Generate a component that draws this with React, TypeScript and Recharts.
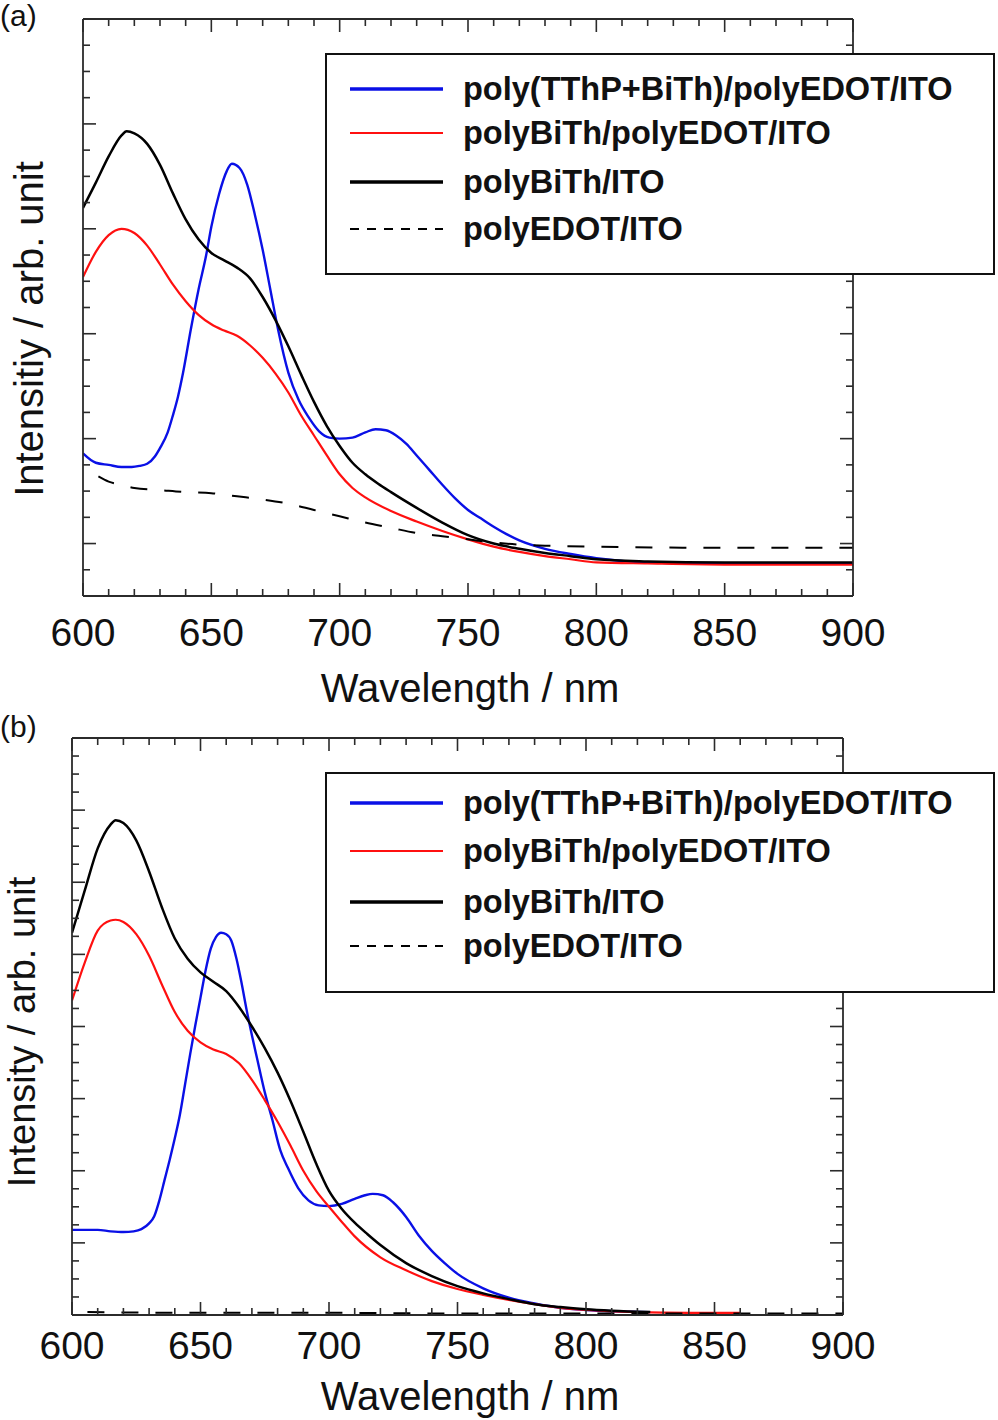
import React from 'react';
import { LineChart, Line, XAxis, YAxis, Legend } from 'recharts';

type Pt = [number, number];

const FONT = '"Liberation Sans", Arial, Helvetica, sans-serif';
const AXIS_COLOR = '#2b2b2b';

// ---------- Panel (a): PL spectra, film on ITO ----------
const blueA: Pt[] = [
  [600, 0.86], [605, 0.77], [610, 0.75], [615, 0.73], [619, 0.73], [622, 0.74], [625, 0.76],
  [628, 0.83], [630, 0.91], [633, 1.06], [635, 1.22], [637, 1.4], [639, 1.63], [642, 2.04],
  [645, 2.42], [648, 2.75], [650, 3.02], [653, 3.33], [656, 3.55], [658, 3.62], [661, 3.58],
  [664, 3.42], [667, 3.13], [670, 2.8], [673, 2.42], [676, 2.04], [680, 1.63], [684, 1.37],
  [688, 1.2], [692, 1.07], [696, 1.01], [700, 1.0], [705, 1.01], [710, 1.06], [714, 1.09],
  [718, 1.08], [722, 1.03], [726, 0.95], [730, 0.84], [735, 0.7], [740, 0.56], [745, 0.43],
  [750, 0.32], [755, 0.24], [760, 0.16], [765, 0.09], [770, 0.03], [780, -0.05], [790, -0.1],
  [800, -0.14], [820, -0.18], [850, -0.19], [900, -0.19],
];
const redA: Pt[] = [
  [600, 2.54], [605, 2.78], [610, 2.94], [615, 3.0], [620, 2.96], [625, 2.84], [630, 2.66],
  [635, 2.47], [640, 2.31], [645, 2.18], [650, 2.09], [655, 2.03], [660, 1.98], [665, 1.89],
  [670, 1.77], [675, 1.62], [680, 1.44], [685, 1.22], [690, 1.03], [695, 0.84], [700, 0.66],
  [705, 0.53], [710, 0.44], [720, 0.31], [730, 0.21], [740, 0.12], [750, 0.04], [760, -0.03],
  [770, -0.08], [780, -0.12], [790, -0.15], [800, -0.18], [820, -0.19], [850, -0.2], [900, -0.2],
];
const blackA: Pt[] = [
  [600, 3.2], [605, 3.44], [610, 3.69], [615, 3.89], [617, 3.93], [620, 3.91], [625, 3.81],
  [630, 3.61], [635, 3.34], [640, 3.09], [645, 2.9], [650, 2.77], [655, 2.7], [660, 2.63],
  [665, 2.53], [670, 2.35], [675, 2.13], [680, 1.88], [685, 1.61], [690, 1.35], [695, 1.12],
  [700, 0.93], [705, 0.77], [710, 0.66], [715, 0.57], [720, 0.49], [730, 0.34], [740, 0.2],
  [750, 0.08], [760, 0.0], [770, -0.05], [780, -0.09], [790, -0.12], [800, -0.15],
  [820, -0.17], [850, -0.18], [900, -0.18],
];
const dashA: Pt[] = [
  [606, 0.64], [610, 0.59], [615, 0.56], [620, 0.53], [630, 0.51], [640, 0.49], [650, 0.48],
  [660, 0.45], [670, 0.42], [680, 0.38], [690, 0.32], [700, 0.26], [710, 0.2], [720, 0.15],
  [730, 0.1], [740, 0.07], [750, 0.04], [760, 0.01], [770, -0.01], [780, -0.02], [800, -0.03],
  [850, -0.04], [900, -0.04],
];

// ---------- Panel (b) ----------
const blueB: Pt[] = [
  [600, 1.18], [605, 1.18], [610, 1.18], [615, 1.16], [620, 1.15], [624, 1.16], [627, 1.19],
  [630, 1.27], [632, 1.37], [634, 1.59], [636, 1.87], [638, 2.15], [640, 2.45], [642, 2.78],
  [644, 3.2], [646, 3.62], [648, 4.02], [650, 4.4], [652, 4.78], [654, 5.08], [656, 5.24],
  [658, 5.3], [660, 5.28], [662, 5.19], [664, 4.94], [666, 4.6], [668, 4.22], [670, 3.88],
  [672, 3.56], [675, 3.09], [678, 2.7], [681, 2.29], [684, 2.04], [688, 1.76], [692, 1.59],
  [696, 1.52], [700, 1.51], [705, 1.54], [710, 1.61], [714, 1.66], [717, 1.68], [721, 1.66],
  [725, 1.56], [730, 1.36], [735, 1.1], [740, 0.89], [745, 0.72], [750, 0.57], [760, 0.37],
  [770, 0.24], [780, 0.16], [790, 0.1], [800, 0.07], [825, 0.04],
];
const redB: Pt[] = [
  [600, 4.36], [605, 4.89], [610, 5.33], [615, 5.47], [617, 5.48], [620, 5.45], [625, 5.28],
  [630, 4.98], [635, 4.58], [640, 4.2], [645, 3.94], [650, 3.78], [655, 3.68], [660, 3.62],
  [665, 3.49], [670, 3.26], [675, 2.98], [680, 2.68], [685, 2.35], [690, 2.0], [695, 1.72],
  [700, 1.5], [705, 1.29], [710, 1.09], [720, 0.8], [730, 0.62], [740, 0.47], [750, 0.36],
  [760, 0.28], [770, 0.21], [780, 0.15], [790, 0.1], [800, 0.07], [820, 0.04], [840, 0.03],
  [860, 0.03],
];
const blackB: Pt[] = [
  [600, 5.3], [605, 5.89], [610, 6.47], [615, 6.8], [617, 6.86], [620, 6.82], [625, 6.58],
  [630, 6.15], [635, 5.65], [640, 5.22], [645, 4.94], [650, 4.75], [655, 4.62], [660, 4.49],
  [665, 4.27], [670, 4.0], [675, 3.7], [680, 3.36], [685, 2.97], [690, 2.54], [695, 2.1],
  [700, 1.72], [705, 1.47], [710, 1.28], [715, 1.12], [720, 0.97], [730, 0.72], [740, 0.54],
  [750, 0.4], [760, 0.3], [770, 0.22], [780, 0.15], [790, 0.11], [800, 0.08], [810, 0.06],
  [825, 0.04],
];
const dashB: Pt[] = [
  [606, 0.04], [650, 0.03], [700, 0.03], [750, 0.02], [800, 0.02], [850, 0.02], [900, 0.02],
];

// ---------- Shared axis settings ----------
const X_DOMAIN: [number, number] = [600, 900];
const X_LABELS = [600, 650, 700, 750, 800, 850, 900];

const seriesNames = [
  'poly(TThP+BiTh)/polyEDOT/ITO',
  'polyBiTh/polyEDOT/ITO',
  'polyBiTh/ITO',
  'polyEDOT/ITO',
];
const seriesColors = ['#0a10e6', '#ff1010', '#000000', '#000000'];
const seriesWidths = [2.4, 2.2, 2.5, 2];
const legendWidths = [3.5, 2, 3.5, 2];
const seriesDash: (string | undefined)[] = [undefined, undefined, undefined, '17 17'];

const range = (start: number, end: number, step: number) => {
  const out: number[] = [];
  for (let i = 0; start + i * step <= end + 1e-9; i++) out.push(+(start + i * step).toFixed(4));
  return out;
};
const X_TICKS = range(600, 900, 10);
const isMajorX = (v: number) => Math.abs(v % 50) < 1e-6;
const isMajorY = (v: number) => Math.abs(v - Math.round(v)) < 1e-6;

const MAJOR = 13;
const MINOR = 7;

type PanelCfg = {
  tag: string;
  yTitle: string;
  yDomain: [number, number];
  margin: { top: number; right: number; bottom: number; left: number };
  series: Pt[][];
  tickLabelDy: number;
  titleDy: number;
  titleCx: number;
  yTitleX: number;
  yTitleCy: number;
  yTitleSize: number;
  tagY: number;
  legend: { left: number; top: number; width: number; height: number; rows: number[] };
};

// Every axis is 1px thick, so the margins are 1px short of the plot edges.
const panels: PanelCfg[] = [
  {
    tag: '(a)',
    yTitle: 'Intensitiy / arb. unit',
    yDomain: [-0.5, 5],
    margin: { top: 18, right: 144, bottom: 113, left: 82 },
    series: [blueA, redA, blackA, dashA],
    tickLabelDy: 50,
    titleDy: 106,
    titleCx: 470,
    yTitleX: 43,
    yTitleCy: 329,
    yTitleSize: 40,
    tagY: 26,
    legend: { left: 325, top: 53, width: 670, height: 222, rows: [36, 80, 129, 176] },
  },
  {
    tag: '(b)',
    yTitle: 'Intensity / arb. unit',
    yDomain: [0, 8],
    margin: { top: 27, right: 154, bottom: 104, left: 71 },
    series: [blueB, redB, blackB, dashB],
    tickLabelDy: 44,
    titleDy: 95,
    titleCx: 470,
    yTitleX: 35,
    yTitleCy: 322,
    yTitleSize: 38,
    tagY: 27,
    legend: { left: 325, top: 62, width: 670, height: 221, rows: [31, 79, 130, 174] },
  },
];

const BottomTick = (props: any) => {
  const { x, y, payload, labelDy } = props;
  const v = payload.value as number;
  const major = isMajorX(v);
  return (
    <g>
      <line x1={x} x2={x} y1={y} y2={y - (major ? MAJOR : MINOR)} stroke={AXIS_COLOR} strokeWidth={1.6} />
      {major && X_LABELS.includes(v) && (
        <text x={x} y={y + labelDy} textAnchor="middle" fontFamily={FONT} fontSize={39} fill="#111">
          {v}
        </text>
      )}
    </g>
  );
};

const TopTick = (props: any) => {
  const { x, y, payload } = props;
  const major = isMajorX(payload.value);
  return <line x1={x} x2={x} y1={y} y2={y + (major ? MAJOR : MINOR)} stroke={AXIS_COLOR} strokeWidth={1.6} />;
};

const LeftTick = (props: any) => {
  const { x, y, payload } = props;
  const major = isMajorY(payload.value);
  return <line x1={x} x2={x + (major ? MAJOR : MINOR)} y1={y} y2={y} stroke={AXIS_COLOR} strokeWidth={1.6} />;
};

const RightTick = (props: any) => {
  const { x, y, payload } = props;
  const major = isMajorY(payload.value);
  return <line x1={x} x2={x - (major ? MAJOR : MINOR)} y1={y} y2={y} stroke={AXIS_COLOR} strokeWidth={1.6} />;
};

const LegendBox = ({ cfg }: { cfg: PanelCfg }) => {
  const { width, height, rows } = cfg.legend;
  const b = 2;
  return (
    <div
      style={{
        width,
        height,
        boxSizing: 'border-box',
        border: `${b}px solid #111`,
        background: '#fff',
      }}
    >
      <svg width={width - 2 * b} height={height - 2 * b} style={{ display: 'block' }}>
        {seriesNames.map((name, i) => (
          <g key={name}>
            <line
              x1={25 - b}
              x2={118 - b}
              y1={rows[i] - b}
              y2={rows[i] - b}
              stroke={seriesColors[i]}
              strokeWidth={legendWidths[i]}
              strokeDasharray={i === 3 ? '9 8' : undefined}
            />
            <text
              x={138 - b}
              y={rows[i] - b + 11}
              fontFamily={FONT}
              fontWeight="bold"
              fontSize={32.5}
              fill="#111"
            >
              {name}
            </text>
          </g>
        ))}
      </svg>
    </div>
  );
};

const Panel = ({ cfg }: { cfg: PanelCfg }) => {
  const yTicks = range(cfg.yDomain[0], cfg.yDomain[1], 0.25);
  const data = cfg.series.map((pts) => pts.map(([x, y]) => ({ x, y })));
  return (
    <LineChart width={998} height={710} margin={cfg.margin}>
      <XAxis
        xAxisId="b"
        dataKey="x"
        type="number"
        domain={X_DOMAIN}
        ticks={X_TICKS}
        interval={0}
        height={1}
        tickSize={0}
        tickMargin={0}
        tickLine={false}
        axisLine={{ stroke: AXIS_COLOR, strokeWidth: 1.8 }}
        tick={(p: any) => <BottomTick {...p} labelDy={cfg.tickLabelDy} />}
        allowDataOverflow
        label={{
          content: (p: any) => {
            const vb = p.viewBox || {};
            return (
              <text
                x={cfg.titleCx}
                y={(vb.y ?? 0) + cfg.titleDy}
                textAnchor="middle"
                fontFamily={FONT}
                fontSize={40}
                fill="#111"
              >
                Wavelength / nm
              </text>
            );
          },
        }}
      />
      <XAxis
        xAxisId="t"
        orientation="top"
        dataKey="x"
        type="number"
        domain={X_DOMAIN}
        ticks={X_TICKS}
        interval={0}
        height={1}
        tickSize={0}
        tickMargin={0}
        tickLine={false}
        axisLine={{ stroke: AXIS_COLOR, strokeWidth: 1.8 }}
        tick={(p: any) => <TopTick {...p} />}
        allowDataOverflow
      />
      <YAxis
        yAxisId="l"
        type="number"
        domain={cfg.yDomain}
        ticks={yTicks}
        interval={0}
        width={1}
        tickSize={0}
        tickMargin={0}
        tickLine={false}
        axisLine={{ stroke: AXIS_COLOR, strokeWidth: 1.8 }}
        tick={(p: any) => <LeftTick {...p} />}
        allowDataOverflow
        label={{
          content: () => (
            <g>
              <text
                x={cfg.yTitleX}
                y={cfg.yTitleCy}
                transform={`rotate(-90 ${cfg.yTitleX} ${cfg.yTitleCy})`}
                textAnchor="middle"
                fontFamily={FONT}
                fontSize={cfg.yTitleSize}
                fill="#111"
              >
                {cfg.yTitle}
              </text>
              <text x={0} y={cfg.tagY} fontFamily={FONT} fontSize={30} fill="#111">
                {cfg.tag}
              </text>
            </g>
          ),
        }}
      />
      <YAxis
        yAxisId="r"
        orientation="right"
        type="number"
        domain={cfg.yDomain}
        ticks={yTicks}
        interval={0}
        width={1}
        tickSize={0}
        tickMargin={0}
        tickLine={false}
        axisLine={{ stroke: AXIS_COLOR, strokeWidth: 1.8 }}
        tick={(p: any) => <RightTick {...p} />}
        allowDataOverflow
      />
      {data.map((d, i) => (
        <Line
          key={seriesNames[i]}
          xAxisId="b"
          yAxisId="l"
          data={d}
          dataKey="y"
          name={seriesNames[i]}
          type="monotone"
          stroke={seriesColors[i]}
          strokeWidth={seriesWidths[i]}
          strokeDasharray={seriesDash[i]}
          dot={false}
          activeDot={false}
          isAnimationActive={false}
        />
      ))}
      <Legend
        layout="vertical"
        align="center"
        verticalAlign="middle"
        wrapperStyle={{
          left: cfg.legend.left,
          top: cfg.legend.top,
          width: cfg.legend.width,
          height: cfg.legend.height,
        }}
        content={() => <LegendBox cfg={cfg} />}
      />
    </LineChart>
  );
};

export default function App() {
  return (
    <div style={{ position: 'absolute', left: 0, top: 0, width: 998, height: 1420, background: '#fff' }}>
      {panels.map((cfg, i) => (
        <div key={cfg.tag} style={{ position: 'absolute', left: 0, top: i * 710 }}>
          <Panel cfg={cfg} />
        </div>
      ))}
    </div>
  );
}
